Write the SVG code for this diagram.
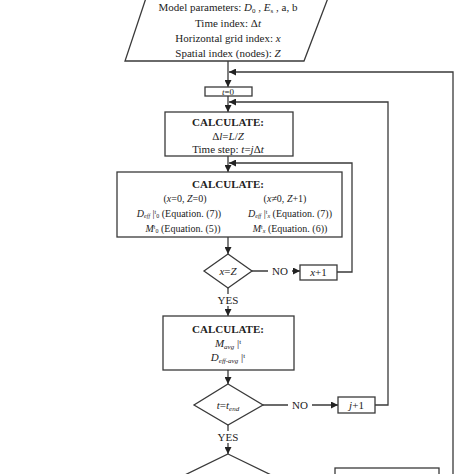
<svg xmlns="http://www.w3.org/2000/svg" width="474" height="474" viewBox="0 0 474 474">
<style>
.s{fill:#fff;stroke:#3a3a3a;stroke-width:1.3}
.c{fill:none;stroke:#3a3a3a;stroke-width:1.3}
text{font-family:"Liberation Serif","Times New Roman",serif;font-size:11px;fill:#222;text-anchor:middle}
.b{font-weight:bold}
.i{font-style:italic}
.sub{font-size:7px}
.sm{font-size:10px}
.tn{font-size:6px}
.lbl{fill:#fff;stroke:none}
</style>
<defs>
<marker id="ah" viewBox="0 0 10 10" refX="10" refY="5" markerWidth="7" markerHeight="7" markerUnits="userSpaceOnUse" orient="auto">
<path d="M0,0 L10,5 L0,10 Z" fill="#222"/>
</marker>
</defs>
<rect width="474" height="474" fill="#fff"/>
<g id="connectors">
<path class="c" d="M228,61 V87" marker-end="url(#ah)"/>
<path class="c" d="M453,474 V72 H229" marker-end="url(#ah)"/>
<path class="c" d="M228,96 V112" marker-end="url(#ah)"/>
<path class="c" d="M375,405 H388 V102 H229" marker-end="url(#ah)"/>
<path class="c" d="M228,156 V172" marker-end="url(#ah)"/>
<path class="c" d="M337,272 H352 V163 H229" marker-end="url(#ah)"/>
<path class="c" d="M228,237 V254" marker-end="url(#ah)"/>
<path class="c" d="M252,271 H300" marker-end="url(#ah)"/>
<path class="c" d="M228,288 V316" marker-end="url(#ah)"/>
<path class="c" d="M228,370 V384" marker-end="url(#ah)"/>
<path class="c" d="M263,405 H338" marker-end="url(#ah)"/>
<path class="c" d="M228,425 V454" marker-end="url(#ah)"/>
<rect class="lbl" x="268" y="265" width="24" height="12"/>
<text x="280" y="275">NO</text>
<rect class="lbl" x="214" y="294" width="28" height="12"/>
<text x="228" y="304">YES</text>
<rect class="lbl" x="288" y="399" width="24" height="12"/>
<text x="300" y="409">NO</text>
<rect class="lbl" x="214" y="431" width="28" height="12"/>
<text x="228" y="441">YES</text>
</g>
<g id="input">
<polygon class="s" points="146,-2 328,-2 304,61 125,61"/>
<text x="228" y="11">Model parameters: <tspan class="i">D</tspan><tspan class="sub" dy="2">0</tspan><tspan dy="-2"> , </tspan><tspan class="i">E</tspan><tspan class="sub" dy="2">s</tspan><tspan dy="-2"> , a, b</tspan></text>
<text x="228" y="27">Time index: Δ<tspan class="i">t</tspan></text>
<text x="228" y="42">Horizontal grid index: <tspan class="i">x</tspan></text>
<text x="228" y="57">Spatial index (nodes): <tspan class="i">Z</tspan></text>
</g>
<g id="t0">
<rect class="s" x="205" y="87" width="47" height="9"/>
<text x="228" y="95" style="font-size:9px"><tspan class="i">t</tspan>=0</text>
</g>
<g id="calc1">
<rect class="s" x="165" y="112" width="128" height="44"/>
<text class="b" x="228" y="126">CALCULATE:</text>
<text x="228" y="140">Δ<tspan class="i">l</tspan>=<tspan class="i">L</tspan>/<tspan class="i">Z</tspan></text>
<text x="228" y="153">Time step: <tspan class="i">t</tspan>=<tspan class="i">j</tspan>Δ<tspan class="i">t</tspan></text>
</g>
<g id="calc2">
<rect class="s" x="117" y="172" width="225" height="65"/>
<text class="b" x="228" y="188">CALCULATE:</text>
<text class="sm" x="185" y="202">(<tspan class="i">x</tspan>=0, <tspan class="i">Z</tspan>=0)</text>
<text class="sm" x="285" y="202">(<tspan class="i">x</tspan>≠0, <tspan class="i">Z</tspan>+1)</text>
<text class="sm" x="179" y="216.5"><tspan class="i">D</tspan><tspan class="tn i" dy="1.5">eff</tspan><tspan dy="-1.5"> |</tspan><tspan class="tn" dy="-2.5">t</tspan><tspan class="tn" dy="4">0</tspan><tspan dy="-1.5"> (Equation. (7))</tspan></text>
<text class="sm" x="290" y="216.5"><tspan class="i">D</tspan><tspan class="tn i" dy="1.5">eff</tspan><tspan dy="-1.5"> |</tspan><tspan class="tn" dy="-2.5">t</tspan><tspan class="tn i" dy="4">x</tspan><tspan dy="-1.5"> (Equation. (7))</tspan></text>
<text class="sm" x="183" y="231.5"><tspan class="i">M</tspan><tspan class="tn" dy="-2.5">t</tspan><tspan class="tn" dy="4">0</tspan><tspan dy="-1.5"> (Equation. (5))</tspan></text>
<text class="sm" x="290" y="231.5"><tspan class="i">M</tspan><tspan class="tn" dy="-2.5">t</tspan><tspan class="tn i" dy="4">x</tspan><tspan dy="-1.5"> (Equation. (6))</tspan></text>
</g>
<g id="dec1">
<polygon class="s" points="228,254 252,271 228,288 204,271"/>
<text x="228" y="275"><tspan class="i">x</tspan>=<tspan class="i">Z</tspan></text>
</g>
<g id="xplus">
<rect class="s" x="300" y="265" width="37" height="15"/>
<text x="318.5" y="276"><tspan class="i">x</tspan>+1</text>
</g>
<g id="calc3">
<rect class="s" x="163" y="316" width="131" height="54"/>
<text class="b" x="228" y="333">CALCULATE:</text>
<text x="228" y="347"><tspan class="i">M</tspan><tspan class="sub i" dy="2">avg</tspan><tspan dy="-2"> |</tspan><tspan class="sub" dy="-3">t</tspan></text>
<text x="228" y="361"><tspan class="i">D</tspan><tspan class="sub i" dy="2">eff-avg</tspan><tspan dy="-2"> |</tspan><tspan class="sub" dy="-3">t</tspan></text>
</g>
<g id="dec2">
<polygon class="s" points="228,384 263,405 228,425 194,405"/>
<text x="228" y="409"><tspan class="i">t</tspan>=<tspan class="i">t</tspan><tspan class="sub i" dy="2">end</tspan></text>
</g>
<g id="jplus">
<rect class="s" x="338" y="397" width="37" height="16"/>
<text x="356.5" y="409"><tspan class="i">j</tspan>+1</text>
</g>
<g id="dec3">
<polygon class="s" points="228,454 298,488 228,522 158,488"/>
</g>
<g id="endbox">
<rect class="s" x="335" y="468" width="104" height="20"/>
</g>
</svg>
